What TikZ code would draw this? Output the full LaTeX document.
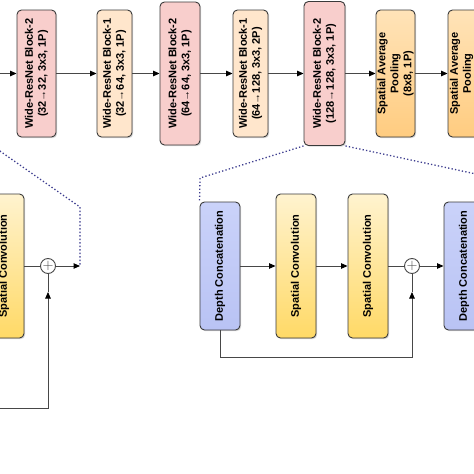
\documentclass[tikz,border=0pt]{standalone}
\usepackage{fontspec}
\setmainfont{Liberation Sans}
\usetikzlibrary{arrows.meta,shadows}
\definecolor{lineg}{HTML}{474747}
\definecolor{boxline}{HTML}{3A3A3A}
\definecolor{pinkb}{HTML}{F8CECC}
\definecolor{peachb}{HTML}{FFE6CC}
\definecolor{yellowa}{HTML}{FFF3CF}
\definecolor{yellowb}{HTML}{FFD966}
\definecolor{poola}{HTML}{FFE3B8}
\definecolor{poolb}{HTML}{FFCC80}
\definecolor{bluea}{HTML}{CAD2F9}
\definecolor{blueb}{HTML}{B9C3F4}
\definecolor{zoomc}{HTML}{3D3D8F}
\tikzset{
  blk/.style={draw=boxline, line width=0.9pt, rounded corners=4.5pt, rotate=90, align=center,
    inner sep=0pt, font=\bfseries\fontsize{11}{13}\selectfont,
    drop shadow={shadow xshift=1.2pt, shadow yshift=-1.2pt, opacity=0.3}},
  resblk/.style={blk, fill=pinkb},
  resblkb/.style={blk, fill=peachb},
  convblk/.style={blk, top color=yellowa, bottom color=yellowb},
  poolblk/.style={blk, top color=poola, bottom color=poolb},
  catblk/.style={blk, top color=bluea, bottom color=blueb},
  sumnode/.style={circle, draw=lineg, fill=white, line width=0.9pt, minimum size=15pt,
    inner sep=0pt, text=lineg, font=\fontsize{14}{14}\selectfont},
  plain/.style={draw=lineg, line width=1pt},
  flow/.style={plain, -{Triangle[length=6.5pt,width=5.5pt,color=black]}},
  zoomln/.style={draw=zoomc, line width=1.3pt, dash pattern=on 1.3pt off 2.2pt}
}
\begin{document}
\begin{tikzpicture}[x=1pt, y=-1pt]
    \useasboundingbox (0,0) rectangle (474,474);
    \clip (0,0) rectangle (474,474);
    %blocchi in alto
    \node[resblk, minimum width=127pt, minimum height=39pt] (blkA) at (36.5,73.5) {Wide-ResNet Block-2\\(32→32, 3x3, 1P)};
    \node[resblkb, minimum width=127pt, minimum height=35pt] (blkB) at (114.5,73.5) {Wide-ResNet Block-1\\(32→64, 3x3, 1P)};
    \node[resblk, minimum width=143pt, minimum height=40pt] (blkC) at (180,73.5) {Wide-ResNet Block-2\\(64→64, 3x3, 1P)};
    \node[resblkb, minimum width=127pt, minimum height=35pt] (blkD) at (250.5,73.5) {Wide-ResNet Block-1\\(64→128, 3x3, 2P)};
    \node[resblk, minimum width=144pt, minimum height=41pt] (blkE) at (324.5,73.5) {Wide-ResNet Block-2\\(128→128, 3x3, 1P)};
    \node[poolblk, minimum width=127pt, minimum height=39pt] (poolF) at (395.5,73.5) {Spatial Average\\Pooling\\(8x8, 1P)};
    \node[poolblk, minimum width=127pt, minimum height=40pt] (poolG) at (468,73.5) {Spatial Average\\Pooling\\(8x8, 1P)};
    \coordinate (inA) at (-2,73.5);
    %frecce in alto
    \draw[flow] (inA) -- (blkA);
    \draw[flow] (blkA) -- (blkB);
    \draw[flow] (blkB) -- (blkC);
    \draw[flow] (blkC) -- (blkD);
    \draw[flow] (blkD) -- (blkE);
    \draw[flow] (blkE) -- (poolF);
    \draw[flow] (poolF) -- (poolG);

    %dettaglio a sinistra
    \node[convblk, minimum width=144pt, minimum height=40pt] (convL) at (4,266) {Spatial Convolution};
    \node[sumnode] (sumL) at (48,266) {$+$};
    \coordinate (outL) at (80,266);
    \coordinate (skipL) at (-5,408);
    \coordinate (tipL) at (48,292);
    \draw[plain] (convL) -- (sumL);
    \draw[flow] (sumL) -- (outL);
    \draw[flow] (skipL) -| (tipL);
    \draw[plain] (tipL) -- (sumL);

    %dettaglio blocco 2
    \node[catblk, minimum width=128pt, minimum height=40pt] (catA) at (220,266) {Depth Concatenation};
    \node[convblk, minimum width=144pt, minimum height=40pt] (convA) at (296,266) {Spatial Convolution};
    \node[convblk, minimum width=144pt, minimum height=40pt] (convB) at (368,266) {Spatial Convolution};
    \node[sumnode] (sumR) at (412,266) {$+$};
    \node[catblk, minimum width=128pt, minimum height=40pt] (catB) at (464,266) {Depth Concatenation};
    \coordinate (tipR) at (412,292);
    \draw[flow] (catA) -- (convA);
    \draw[flow] (convA) -- (convB);
    \draw[plain] (convB) -- (sumR);
    \draw[flow] (sumR) -- (catB);
    \draw[flow] (catA.west) -- ++(0,27) -| (tipR);
    \draw[plain] (tipR) -- (sumR);

    %linee tratteggiate (zoom)
    \coordinate (zl0) at (-3,149);
    \coordinate (zl1) at (80,207);
    \coordinate (zb1) at (200,178);
    \coordinate (zr) at (490,177);
    \draw[zoomln] (zl0) -- (zl1) -- (outL);
    \draw[zoomln] (blkE.north west) -- (zb1) -- (catA.north east);
    \draw[zoomln] (blkE.south west) -- (zr);
\end{tikzpicture}
\end{document}
